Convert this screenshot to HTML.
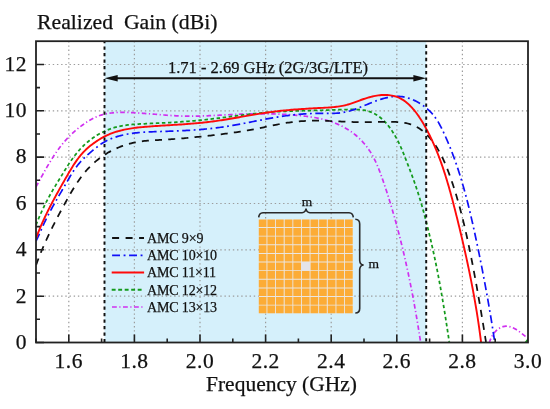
<!DOCTYPE html>
<html><head><meta charset="utf-8"><style>
html,body{margin:0;padding:0;background:#fff;}
svg text{font-family:"Liberation Serif",serif;fill:#111;white-space:pre;stroke:#111;stroke-width:0.25px;}
svg{will-change:transform;filter:blur(0.3px);}
</style></head><body>
<svg width="550" height="409" viewBox="0 0 550 409" style="display:block">
<defs><clipPath id="clip"><rect x="36.0" y="41.2" width="492.0" height="301.3"/></clipPath></defs>
<rect x="104.5" y="41.2" width="321.7" height="301.3" fill="#d5f0fb"/>
<path d="M36.0,296.2H528.0M36.0,249.8H528.0M36.0,203.5H528.0M36.0,157.1H528.0M36.0,110.8H528.0M36.0,64.5H528.0M68.8,41.2V342.5M134.4,41.2V342.5M200.0,41.2V342.5M265.6,41.2V342.5M331.2,41.2V342.5M396.8,41.2V342.5M462.4,41.2V342.5" stroke="#9c9c9c" stroke-width="1.2" stroke-dasharray="1.4 2.788" fill="none"/>
<rect x="258.8" y="219.4" width="93.9" height="93.9" fill="#ebe6e0"/>
<path d="M258.8,219.4h7.7v7.7h-7.7zM267.4,219.4h7.7v7.7h-7.7zM276.0,219.4h7.7v7.7h-7.7zM284.7,219.4h7.7v7.7h-7.7zM293.3,219.4h7.7v7.7h-7.7zM301.9,219.4h7.7v7.7h-7.7zM310.5,219.4h7.7v7.7h-7.7zM319.1,219.4h7.7v7.7h-7.7zM327.8,219.4h7.7v7.7h-7.7zM336.4,219.4h7.7v7.7h-7.7zM345.0,219.4h7.7v7.7h-7.7zM258.8,228.0h7.7v7.7h-7.7zM267.4,228.0h7.7v7.7h-7.7zM276.0,228.0h7.7v7.7h-7.7zM284.7,228.0h7.7v7.7h-7.7zM293.3,228.0h7.7v7.7h-7.7zM301.9,228.0h7.7v7.7h-7.7zM310.5,228.0h7.7v7.7h-7.7zM319.1,228.0h7.7v7.7h-7.7zM327.8,228.0h7.7v7.7h-7.7zM336.4,228.0h7.7v7.7h-7.7zM345.0,228.0h7.7v7.7h-7.7zM258.8,236.6h7.7v7.7h-7.7zM267.4,236.6h7.7v7.7h-7.7zM276.0,236.6h7.7v7.7h-7.7zM284.7,236.6h7.7v7.7h-7.7zM293.3,236.6h7.7v7.7h-7.7zM301.9,236.6h7.7v7.7h-7.7zM310.5,236.6h7.7v7.7h-7.7zM319.1,236.6h7.7v7.7h-7.7zM327.8,236.6h7.7v7.7h-7.7zM336.4,236.6h7.7v7.7h-7.7zM345.0,236.6h7.7v7.7h-7.7zM258.8,245.3h7.7v7.7h-7.7zM267.4,245.3h7.7v7.7h-7.7zM276.0,245.3h7.7v7.7h-7.7zM284.7,245.3h7.7v7.7h-7.7zM293.3,245.3h7.7v7.7h-7.7zM301.9,245.3h7.7v7.7h-7.7zM310.5,245.3h7.7v7.7h-7.7zM319.1,245.3h7.7v7.7h-7.7zM327.8,245.3h7.7v7.7h-7.7zM336.4,245.3h7.7v7.7h-7.7zM345.0,245.3h7.7v7.7h-7.7zM258.8,253.9h7.7v7.7h-7.7zM267.4,253.9h7.7v7.7h-7.7zM276.0,253.9h7.7v7.7h-7.7zM284.7,253.9h7.7v7.7h-7.7zM293.3,253.9h7.7v7.7h-7.7zM301.9,253.9h7.7v7.7h-7.7zM310.5,253.9h7.7v7.7h-7.7zM319.1,253.9h7.7v7.7h-7.7zM327.8,253.9h7.7v7.7h-7.7zM336.4,253.9h7.7v7.7h-7.7zM345.0,253.9h7.7v7.7h-7.7zM258.8,262.5h7.7v7.7h-7.7zM267.4,262.5h7.7v7.7h-7.7zM276.0,262.5h7.7v7.7h-7.7zM284.7,262.5h7.7v7.7h-7.7zM293.3,262.5h7.7v7.7h-7.7zM310.5,262.5h7.7v7.7h-7.7zM319.1,262.5h7.7v7.7h-7.7zM327.8,262.5h7.7v7.7h-7.7zM336.4,262.5h7.7v7.7h-7.7zM345.0,262.5h7.7v7.7h-7.7zM258.8,271.1h7.7v7.7h-7.7zM267.4,271.1h7.7v7.7h-7.7zM276.0,271.1h7.7v7.7h-7.7zM284.7,271.1h7.7v7.7h-7.7zM293.3,271.1h7.7v7.7h-7.7zM301.9,271.1h7.7v7.7h-7.7zM310.5,271.1h7.7v7.7h-7.7zM319.1,271.1h7.7v7.7h-7.7zM327.8,271.1h7.7v7.7h-7.7zM336.4,271.1h7.7v7.7h-7.7zM345.0,271.1h7.7v7.7h-7.7zM258.8,279.7h7.7v7.7h-7.7zM267.4,279.7h7.7v7.7h-7.7zM276.0,279.7h7.7v7.7h-7.7zM284.7,279.7h7.7v7.7h-7.7zM293.3,279.7h7.7v7.7h-7.7zM301.9,279.7h7.7v7.7h-7.7zM310.5,279.7h7.7v7.7h-7.7zM319.1,279.7h7.7v7.7h-7.7zM327.8,279.7h7.7v7.7h-7.7zM336.4,279.7h7.7v7.7h-7.7zM345.0,279.7h7.7v7.7h-7.7zM258.8,288.4h7.7v7.7h-7.7zM267.4,288.4h7.7v7.7h-7.7zM276.0,288.4h7.7v7.7h-7.7zM284.7,288.4h7.7v7.7h-7.7zM293.3,288.4h7.7v7.7h-7.7zM301.9,288.4h7.7v7.7h-7.7zM310.5,288.4h7.7v7.7h-7.7zM319.1,288.4h7.7v7.7h-7.7zM327.8,288.4h7.7v7.7h-7.7zM336.4,288.4h7.7v7.7h-7.7zM345.0,288.4h7.7v7.7h-7.7zM258.8,297.0h7.7v7.7h-7.7zM267.4,297.0h7.7v7.7h-7.7zM276.0,297.0h7.7v7.7h-7.7zM284.7,297.0h7.7v7.7h-7.7zM293.3,297.0h7.7v7.7h-7.7zM301.9,297.0h7.7v7.7h-7.7zM310.5,297.0h7.7v7.7h-7.7zM319.1,297.0h7.7v7.7h-7.7zM327.8,297.0h7.7v7.7h-7.7zM336.4,297.0h7.7v7.7h-7.7zM345.0,297.0h7.7v7.7h-7.7zM258.8,305.6h7.7v7.7h-7.7zM267.4,305.6h7.7v7.7h-7.7zM276.0,305.6h7.7v7.7h-7.7zM284.7,305.6h7.7v7.7h-7.7zM293.3,305.6h7.7v7.7h-7.7zM301.9,305.6h7.7v7.7h-7.7zM310.5,305.6h7.7v7.7h-7.7zM319.1,305.6h7.7v7.7h-7.7zM327.8,305.6h7.7v7.7h-7.7zM336.4,305.6h7.7v7.7h-7.7zM345.0,305.6h7.7v7.7h-7.7z" fill="#fcac36"/>
<rect x="301.3" y="261.9" width="8.9" height="8.9" fill="#e4e4e8"/>
<path d="M258.7,217.4 Q259,213 263,212.7 L302,212.7 Q305.5,212.5 306,208.5 Q306.5,212.5 310,212.7 L349,212.7 Q353,213 353.3,217.4" stroke="#2a2a2a" stroke-width="1.6" fill="none"/>
<path d="M355.3,219.3 Q359.7,219.5 359.7,224 L359.7,260.5 Q359.9,264.6 363.6,265 Q359.9,265.4 359.7,269.5 L359.7,308.5 Q359.7,313 355.3,313" stroke="#2a2a2a" stroke-width="1.6" fill="none"/>
<text x="307" y="206" font-size="13.5" text-anchor="middle">m</text>
<text x="368.5" y="268.2" font-size="13.5">m</text>
<g clip-path="url(#clip)">
<path d="M35.96,186.97 L36.68,185.66 L37.40,184.34 L38.11,183.02 L38.83,181.70 L39.55,180.37 L40.27,179.05 L40.99,177.72 L41.72,176.40 L42.45,175.08 L43.18,173.75 L43.91,172.43 L44.65,171.11 L45.39,169.80 L46.14,168.48 L46.89,167.17 L47.65,165.86 L48.41,164.56 L49.18,163.26 L49.96,161.97 L50.75,160.68 L51.55,159.40 L52.35,158.12 L53.16,156.85 L53.99,155.59 L54.82,154.34 L55.66,153.10 L56.52,151.86 L57.38,150.63 L58.26,149.41 L59.15,148.21 L60.05,147.01 L60.97,145.82 L61.90,144.65 L62.85,143.49 L63.80,142.34 L64.78,141.20 L65.77,140.08 L66.78,138.97 L67.80,137.87 L68.84,136.79 L69.90,135.73 L70.97,134.68 L72.06,133.64 L73.17,132.62 L74.30,131.62 L75.44,130.63 L76.60,129.65 L77.77,128.69 L78.96,127.74 L80.16,126.80 L81.37,125.88 L82.60,124.97 L83.84,124.07 L85.09,123.19 L86.36,122.34 L87.64,121.50 L88.93,120.70 L90.23,119.92 L91.55,119.17 L92.88,118.47 L94.22,117.79 L95.58,117.16 L96.95,116.58 L98.34,116.04 L99.73,115.54 L101.14,115.09 L102.56,114.68 L104.00,114.31 L105.44,113.98 L106.89,113.68 L108.35,113.42 L109.82,113.19 L111.30,112.99 L112.78,112.82 L114.28,112.68 L115.77,112.57 L117.27,112.48 L118.78,112.41 L120.29,112.37 L121.81,112.35 L123.32,112.34 L124.84,112.36 L126.37,112.38 L127.89,112.43 L129.41,112.48 L130.93,112.55 L132.45,112.62 L133.97,112.70 L135.49,112.79 L137.00,112.88 L138.52,112.98 L140.03,113.08 L141.54,113.19 L143.05,113.30 L144.56,113.41 L146.06,113.53 L147.57,113.65 L149.07,113.77 L150.57,113.89 L152.08,114.02 L153.58,114.14 L155.08,114.27 L156.58,114.39 L158.08,114.52 L159.57,114.64 L161.07,114.76 L162.57,114.88 L164.07,115.00 L165.56,115.12 L167.06,115.23 L168.55,115.33 L170.05,115.44 L171.55,115.53 L173.04,115.63 L174.54,115.71 L176.04,115.79 L177.54,115.87 L179.04,115.94 L180.54,116.00 L182.04,116.05 L183.54,116.09 L185.04,116.12 L186.54,116.15 L188.04,116.17 L189.55,116.18 L191.05,116.18 L192.56,116.17 L194.06,116.16 L195.57,116.14 L197.08,116.11 L198.59,116.08 L200.10,116.04 L201.60,116.00 L203.11,115.95 L204.62,115.90 L206.13,115.84 L207.64,115.78 L209.15,115.72 L210.67,115.65 L212.18,115.58 L213.69,115.51 L215.20,115.43 L216.71,115.36 L218.22,115.28 L219.73,115.20 L221.24,115.13 L222.75,115.05 L224.26,114.97 L225.77,114.89 L227.28,114.81 L228.79,114.73 L230.30,114.66 L231.81,114.59 L233.32,114.52 L234.82,114.45 L236.33,114.38 L237.84,114.32 L239.34,114.26 L240.85,114.20 L242.36,114.15 L243.86,114.10 L245.37,114.05 L246.87,114.01 L248.37,113.97 L249.88,113.93 L251.38,113.90 L252.89,113.87 L254.39,113.84 L255.89,113.82 L257.40,113.81 L258.90,113.79 L260.40,113.79 L261.91,113.78 L263.41,113.79 L264.91,113.79 L266.42,113.81 L267.92,113.82 L269.42,113.84 L270.93,113.87 L272.43,113.91 L273.94,113.95 L275.44,113.99 L276.95,114.04 L278.45,114.10 L279.96,114.16 L281.46,114.23 L282.97,114.30 L284.48,114.39 L285.99,114.47 L287.49,114.57 L289.00,114.67 L290.51,114.78 L292.01,114.89 L293.52,115.01 L295.02,115.14 L296.53,115.28 L298.03,115.42 L299.53,115.57 L301.03,115.72 L302.53,115.89 L304.02,116.06 L305.52,116.24 L307.01,116.42 L308.50,116.62 L309.99,116.82 L311.47,117.04 L312.95,117.27 L314.43,117.52 L315.91,117.78 L317.38,118.05 L318.85,118.35 L320.32,118.66 L321.78,118.99 L323.24,119.34 L324.69,119.71 L326.14,120.10 L327.59,120.52 L329.03,120.96 L330.46,121.43 L331.89,121.92 L333.31,122.43 L334.72,122.97 L336.12,123.53 L337.52,124.12 L338.90,124.73 L340.27,125.36 L341.62,126.02 L342.97,126.71 L344.30,127.42 L345.61,128.16 L346.91,128.93 L348.20,129.72 L349.46,130.53 L350.71,131.37 L351.94,132.24 L353.16,133.14 L354.35,134.06 L355.52,135.01 L356.67,135.99 L357.80,136.98 L358.91,138.01 L359.99,139.05 L361.06,140.12 L362.10,141.21 L363.11,142.32 L364.11,143.46 L365.07,144.61 L366.02,145.78 L366.94,146.97 L367.83,148.18 L368.70,149.41 L369.54,150.65 L370.35,151.91 L371.14,153.19 L371.90,154.48 L372.64,155.78 L373.35,157.10 L374.05,158.43 L374.72,159.77 L375.37,161.13 L376.01,162.49 L376.63,163.86 L377.23,165.24 L377.81,166.63 L378.39,168.03 L378.94,169.44 L379.49,170.84 L380.03,172.26 L380.55,173.68 L381.07,175.10 L381.58,176.53 L382.09,177.95 L382.59,179.38 L383.08,180.81 L383.57,182.24 L384.06,183.67 L384.54,185.10 L385.02,186.53 L385.50,187.96 L385.97,189.40 L386.44,190.83 L386.90,192.26 L387.37,193.70 L387.82,195.13 L388.28,196.57 L388.73,198.00 L389.18,199.44 L389.62,200.88 L390.06,202.32 L390.50,203.76 L390.94,205.20 L391.37,206.64 L391.80,208.08 L392.23,209.52 L392.65,210.96 L393.07,212.41 L393.49,213.85 L393.90,215.30 L394.31,216.75 L394.72,218.19 L395.13,219.64 L395.53,221.09 L395.93,222.54 L396.33,224.00 L396.73,225.45 L397.12,226.90 L397.51,228.35 L397.89,229.81 L398.28,231.26 L398.66,232.72 L399.04,234.18 L399.41,235.64 L399.79,237.09 L400.16,238.55 L400.52,240.01 L400.89,241.47 L401.25,242.94 L401.61,244.40 L401.97,245.86 L402.33,247.33 L402.68,248.79 L403.03,250.25 L403.38,251.72 L403.72,253.19 L404.07,254.65 L404.41,256.12 L404.74,257.59 L405.08,259.06 L405.41,260.53 L405.74,262.00 L406.07,263.47 L406.40,264.94 L406.72,266.41 L407.04,267.88 L407.36,269.36 L407.68,270.83 L408.00,272.30 L408.31,273.78 L408.62,275.25 L408.93,276.73 L409.23,278.20 L409.54,279.68 L409.84,281.16 L410.14,282.63 L410.44,284.11 L410.73,285.59 L411.02,287.07 L411.32,288.55 L411.61,290.03 L411.89,291.51 L412.18,292.99 L412.46,294.47 L412.74,295.95 L413.02,297.43 L413.30,298.91 L413.57,300.39 L413.85,301.87 L414.12,303.36 L414.39,304.84 L414.66,306.32 L414.92,307.80 L415.19,309.29 L415.45,310.77 L415.71,312.26 L415.97,313.74 L416.23,315.23 L416.48,316.71 L416.73,318.20 L416.99,319.68 L417.24,321.17 L417.48,322.65 L417.73,324.14 L417.98,325.62 L418.22,327.11 L418.46,328.60 L418.70,330.08 L418.94,331.57 L419.18,333.06 L419.41,334.54 L419.65,336.03 L419.88,337.52 L420.11,339.00 L420.34,340.49 L420.57,341.98" stroke="#d030f0" stroke-width="1.7" fill="none" stroke-dasharray="4.6 2.5 1.2 2.5" stroke-linejoin="round"/>
<path d="M489.32,342.99 L489.71,341.58 L490.21,340.13 L490.80,338.67 L491.49,337.21 L492.28,335.78 L493.15,334.38 L494.11,333.04 L495.16,331.77 L496.29,330.60 L497.50,329.53 L498.78,328.59 L500.13,327.79 L501.54,327.14 L502.99,326.66 L504.47,326.35 L505.97,326.22 L507.48,326.28 L508.99,326.51 L510.49,326.89 L511.97,327.40 L513.42,328.03 L514.84,328.76 L516.24,329.57 L517.61,330.45 L518.96,331.39 L520.28,332.36 L521.59,333.35 L522.87,334.35 L524.13,335.34 L525.38,336.30 L526.60,337.21 L527.81,338.07 L529.01,338.85" stroke="#d030f0" stroke-width="1.7" fill="none" stroke-dasharray="4.6 2.5 1.2 2.5" stroke-linejoin="round"/>
<path d="M35.97,224.99 L36.53,223.60 L37.10,222.20 L37.67,220.81 L38.25,219.41 L38.84,218.03 L39.43,216.64 L40.03,215.26 L40.64,213.88 L41.25,212.51 L41.87,211.14 L42.50,209.77 L43.14,208.41 L43.79,207.05 L44.44,205.69 L45.10,204.34 L45.78,202.99 L46.46,201.65 L47.15,200.32 L47.85,198.99 L48.56,197.66 L49.28,196.34 L50.01,195.02 L50.74,193.71 L51.49,192.40 L52.24,191.10 L53.00,189.80 L53.77,188.51 L54.54,187.21 L55.31,185.92 L56.09,184.63 L56.87,183.35 L57.66,182.06 L58.44,180.78 L59.23,179.49 L60.02,178.21 L60.80,176.93 L61.59,175.64 L62.37,174.36 L63.16,173.07 L63.94,171.79 L64.72,170.50 L65.51,169.22 L66.30,167.94 L67.10,166.67 L67.90,165.40 L68.72,164.13 L69.54,162.87 L70.38,161.62 L71.23,160.38 L72.10,159.15 L72.98,157.93 L73.88,156.72 L74.79,155.53 L75.72,154.35 L76.67,153.18 L77.64,152.02 L78.62,150.89 L79.62,149.76 L80.64,148.66 L81.68,147.57 L82.73,146.50 L83.81,145.46 L84.90,144.43 L86.01,143.42 L87.14,142.43 L88.29,141.46 L89.46,140.52 L90.65,139.60 L91.86,138.70 L93.09,137.83 L94.34,136.99 L95.61,136.16 L96.89,135.36 L98.19,134.59 L99.50,133.84 L100.82,133.12 L102.16,132.42 L103.51,131.75 L104.88,131.11 L106.26,130.49 L107.64,129.91 L109.04,129.35 L110.45,128.83 L111.87,128.34 L113.30,127.88 L114.74,127.46 L116.18,127.07 L117.63,126.71 L119.09,126.38 L120.56,126.08 L122.03,125.80 L123.51,125.55 L124.99,125.32 L126.48,125.12 L127.98,124.93 L129.47,124.77 L130.97,124.62 L132.48,124.49 L133.98,124.36 L135.49,124.26 L137.00,124.16 L138.51,124.07 L140.02,123.99 L141.53,123.91 L143.04,123.84 L144.55,123.76 L146.06,123.69 L147.57,123.63 L149.07,123.56 L150.58,123.49 L152.09,123.43 L153.59,123.36 L155.10,123.30 L156.60,123.23 L158.11,123.16 L159.61,123.09 L161.12,123.02 L162.62,122.94 L164.12,122.87 L165.63,122.79 L167.13,122.71 L168.63,122.62 L170.14,122.54 L171.64,122.45 L173.14,122.35 L174.64,122.26 L176.15,122.16 L177.65,122.06 L179.15,121.96 L180.65,121.85 L182.15,121.74 L183.65,121.63 L185.15,121.52 L186.66,121.40 L188.16,121.28 L189.66,121.15 L191.16,121.03 L192.66,120.90 L194.16,120.77 L195.66,120.63 L197.15,120.49 L198.65,120.35 L200.15,120.20 L201.65,120.05 L203.15,119.90 L204.65,119.75 L206.15,119.59 L207.64,119.43 L209.14,119.26 L210.64,119.09 L212.14,118.92 L213.63,118.74 L215.13,118.57 L216.63,118.38 L218.12,118.20 L219.62,118.01 L221.12,117.83 L222.61,117.64 L224.11,117.45 L225.61,117.25 L227.10,117.06 L228.60,116.87 L230.09,116.67 L231.59,116.48 L233.09,116.28 L234.58,116.09 L236.08,115.89 L237.57,115.70 L239.07,115.50 L240.57,115.31 L242.06,115.12 L243.56,114.93 L245.05,114.75 L246.55,114.56 L248.05,114.38 L249.54,114.20 L251.04,114.03 L252.54,113.85 L254.04,113.68 L255.53,113.52 L257.03,113.36 L258.53,113.20 L260.03,113.04 L261.53,112.90 L263.03,112.75 L264.52,112.61 L266.02,112.48 L267.52,112.35 L269.02,112.23 L270.53,112.12 L272.03,112.01 L273.53,111.91 L275.03,111.81 L276.53,111.72 L278.03,111.63 L279.54,111.55 L281.04,111.48 L282.54,111.41 L284.05,111.34 L285.55,111.28 L287.05,111.22 L288.56,111.17 L290.06,111.11 L291.57,111.07 L293.07,111.02 L294.58,110.98 L296.08,110.93 L297.59,110.89 L299.09,110.86 L300.60,110.82 L302.10,110.78 L303.61,110.75 L305.12,110.71 L306.62,110.68 L308.13,110.64 L309.63,110.60 L311.14,110.57 L312.65,110.53 L314.15,110.49 L315.66,110.45 L317.16,110.41 L318.67,110.36 L320.18,110.32 L321.68,110.27 L323.19,110.21 L324.69,110.16 L326.20,110.11 L327.71,110.05 L329.21,110.00 L330.72,109.94 L332.23,109.89 L333.73,109.83 L335.24,109.78 L336.75,109.73 L338.26,109.69 L339.77,109.65 L341.28,109.61 L342.79,109.57 L344.31,109.54 L345.82,109.52 L347.34,109.50 L348.85,109.49 L350.37,109.48 L351.89,109.48 L353.41,109.49 L354.93,109.51 L356.45,109.55 L357.96,109.60 L359.47,109.69 L360.97,109.81 L362.46,109.98 L363.93,110.19 L365.39,110.46 L366.83,110.78 L368.25,111.17 L369.65,111.63 L371.03,112.14 L372.38,112.71 L373.71,113.34 L375.02,114.03 L376.29,114.77 L377.55,115.56 L378.77,116.40 L379.97,117.29 L381.14,118.23 L382.27,119.21 L383.38,120.24 L384.45,121.31 L385.50,122.41 L386.51,123.55 L387.50,124.72 L388.45,125.91 L389.38,127.13 L390.29,128.37 L391.17,129.62 L392.02,130.88 L392.85,132.16 L393.66,133.44 L394.45,134.74 L395.21,136.04 L395.95,137.35 L396.68,138.67 L397.38,140.00 L398.07,141.34 L398.74,142.68 L399.39,144.03 L400.03,145.39 L400.65,146.75 L401.25,148.12 L401.85,149.50 L402.43,150.88 L403.00,152.27 L403.57,153.65 L404.13,155.05 L404.68,156.44 L405.23,157.84 L405.78,159.24 L406.32,160.64 L406.87,162.04 L407.41,163.44 L407.96,164.85 L408.50,166.25 L409.04,167.66 L409.58,169.06 L410.11,170.47 L410.65,171.88 L411.18,173.29 L411.71,174.71 L412.23,176.12 L412.75,177.53 L413.27,178.95 L413.78,180.37 L414.28,181.79 L414.79,183.21 L415.28,184.64 L415.77,186.06 L416.26,187.49 L416.74,188.92 L417.21,190.35 L417.68,191.78 L418.14,193.22 L418.60,194.65 L419.05,196.09 L419.49,197.53 L419.93,198.97 L420.36,200.41 L420.79,201.86 L421.21,203.30 L421.63,204.75 L422.05,206.20 L422.46,207.65 L422.86,209.10 L423.26,210.55 L423.66,212.00 L424.05,213.46 L424.44,214.91 L424.83,216.37 L425.21,217.82 L425.59,219.28 L425.97,220.74 L426.34,222.20 L426.71,223.66 L427.08,225.12 L427.45,226.58 L427.81,228.04 L428.17,229.50 L428.53,230.96 L428.89,232.43 L429.24,233.89 L429.59,235.35 L429.94,236.82 L430.29,238.28 L430.63,239.75 L430.98,241.22 L431.32,242.68 L431.65,244.15 L431.99,245.62 L432.32,247.09 L432.65,248.55 L432.98,250.02 L433.30,251.49 L433.62,252.97 L433.94,254.44 L434.26,255.91 L434.57,257.38 L434.88,258.86 L435.19,260.33 L435.50,261.80 L435.80,263.28 L436.10,264.75 L436.40,266.23 L436.70,267.71 L436.99,269.19 L437.28,270.66 L437.57,272.14 L437.86,273.62 L438.14,275.10 L438.43,276.58 L438.71,278.06 L438.99,279.54 L439.26,281.02 L439.54,282.51 L439.81,283.99 L440.08,285.47 L440.35,286.95 L440.61,288.44 L440.88,289.92 L441.14,291.41 L441.40,292.89 L441.66,294.38 L441.92,295.86 L442.17,297.35 L442.43,298.83 L442.68,300.32 L442.93,301.80 L443.18,303.29 L443.43,304.78 L443.68,306.26 L443.92,307.75 L444.16,309.24 L444.41,310.72 L444.65,312.21 L444.89,313.70 L445.13,315.19 L445.37,316.67 L445.60,318.16 L445.84,319.65 L446.07,321.14 L446.31,322.63 L446.54,324.11 L446.77,325.60 L447.00,327.09 L447.24,328.58 L447.46,330.07 L447.69,331.55 L447.92,333.04 L448.15,334.53 L448.38,336.02 L448.60,337.51 L448.83,338.99 L449.05,340.48 L449.28,341.97" stroke="#149a1c" stroke-width="1.75" fill="none" stroke-dasharray="3.5 2.6" stroke-linejoin="round"/>
<path d="M36.09,265.04 L36.60,263.62 L37.12,262.21 L37.64,260.79 L38.17,259.39 L38.71,257.98 L39.25,256.58 L39.81,255.18 L40.37,253.78 L40.93,252.39 L41.50,251.00 L42.08,249.62 L42.67,248.23 L43.26,246.85 L43.86,245.47 L44.46,244.10 L45.07,242.73 L45.69,241.36 L46.31,239.99 L46.93,238.63 L47.56,237.26 L48.20,235.91 L48.84,234.55 L49.49,233.19 L50.14,231.84 L50.80,230.49 L51.46,229.14 L52.12,227.80 L52.79,226.45 L53.47,225.11 L54.14,223.77 L54.83,222.43 L55.51,221.09 L56.20,219.76 L56.89,218.42 L57.59,217.09 L58.29,215.76 L58.99,214.43 L59.70,213.11 L60.41,211.78 L61.12,210.46 L61.83,209.13 L62.55,207.81 L63.27,206.49 L63.99,205.17 L64.71,203.85 L65.44,202.53 L66.17,201.21 L66.89,199.90 L67.63,198.58 L68.36,197.27 L69.10,195.96 L69.85,194.65 L70.59,193.34 L71.35,192.04 L72.11,190.75 L72.88,189.46 L73.66,188.18 L74.45,186.90 L75.24,185.63 L76.05,184.37 L76.87,183.12 L77.70,181.87 L78.54,180.64 L79.40,179.41 L80.26,178.20 L81.15,176.99 L82.05,175.80 L82.96,174.62 L83.89,173.45 L84.84,172.30 L85.81,171.16 L86.80,170.04 L87.80,168.93 L88.83,167.83 L89.88,166.76 L90.94,165.70 L92.03,164.65 L93.14,163.63 L94.27,162.62 L95.41,161.63 L96.58,160.66 L97.76,159.71 L98.95,158.78 L100.16,157.87 L101.39,156.98 L102.63,156.11 L103.89,155.27 L105.16,154.44 L106.44,153.64 L107.74,152.87 L109.04,152.11 L110.36,151.38 L111.69,150.68 L113.02,150.00 L114.37,149.34 L115.73,148.70 L117.09,148.09 L118.47,147.51 L119.85,146.94 L121.25,146.41 L122.65,145.89 L124.06,145.40 L125.47,144.93 L126.90,144.49 L128.33,144.06 L129.77,143.67 L131.21,143.29 L132.67,142.94 L134.12,142.61 L135.59,142.31 L137.06,142.02 L138.53,141.76 L140.01,141.53 L141.49,141.31 L142.98,141.12 L144.48,140.95 L145.97,140.80 L147.47,140.66 L148.97,140.54 L150.48,140.43 L151.98,140.33 L153.49,140.24 L155.00,140.16 L156.51,140.08 L158.02,140.01 L159.53,139.93 L161.04,139.86 L162.55,139.78 L164.05,139.70 L165.56,139.61 L167.06,139.52 L168.57,139.42 L170.07,139.32 L171.57,139.22 L173.07,139.11 L174.57,139.00 L176.07,138.89 L177.57,138.77 L179.06,138.65 L180.56,138.53 L182.06,138.40 L183.55,138.27 L185.05,138.14 L186.54,138.00 L188.04,137.87 L189.53,137.72 L191.02,137.58 L192.52,137.44 L194.01,137.29 L195.50,137.14 L197.00,136.98 L198.49,136.83 L199.98,136.67 L201.47,136.51 L202.97,136.35 L204.46,136.19 L205.95,136.02 L207.45,135.86 L208.94,135.69 L210.43,135.52 L211.93,135.35 L213.42,135.18 L214.92,135.00 L216.41,134.83 L217.90,134.65 L219.40,134.46 L220.89,134.28 L222.38,134.09 L223.88,133.90 L225.37,133.71 L226.86,133.51 L228.35,133.31 L229.84,133.11 L231.33,132.90 L232.82,132.69 L234.31,132.48 L235.80,132.26 L237.29,132.04 L238.78,131.81 L240.26,131.58 L241.75,131.35 L243.23,131.11 L244.72,130.87 L246.20,130.62 L247.68,130.37 L249.16,130.12 L250.64,129.86 L252.12,129.59 L253.59,129.32 L255.07,129.04 L256.54,128.76 L258.01,128.47 L259.48,128.18 L260.95,127.88 L262.42,127.58 L263.89,127.27 L265.35,126.96 L266.82,126.65 L268.28,126.34 L269.75,126.03 L271.22,125.72 L272.68,125.42 L274.15,125.11 L275.62,124.82 L277.09,124.53 L278.57,124.24 L280.04,123.96 L281.52,123.70 L283.00,123.44 L284.49,123.19 L285.98,122.95 L287.47,122.73 L288.96,122.51 L290.45,122.31 L291.95,122.12 L293.44,121.94 L294.94,121.77 L296.44,121.61 L297.94,121.47 L299.45,121.34 L300.95,121.22 L302.45,121.11 L303.95,121.02 L305.46,120.94 L306.96,120.87 L308.47,120.82 L309.97,120.77 L311.47,120.74 L312.98,120.72 L314.48,120.71 L315.98,120.70 L317.49,120.71 L318.99,120.72 L320.49,120.74 L322.00,120.77 L323.50,120.81 L325.00,120.85 L326.50,120.89 L328.01,120.94 L329.51,121.00 L331.01,121.06 L332.51,121.12 L334.02,121.18 L335.52,121.25 L337.02,121.32 L338.52,121.39 L340.02,121.46 L341.53,121.53 L343.03,121.59 L344.53,121.66 L346.03,121.73 L347.53,121.79 L349.03,121.85 L350.53,121.91 L352.03,121.96 L353.53,122.01 L355.03,122.05 L356.53,122.08 L358.03,122.11 L359.52,122.14 L361.02,122.15 L362.52,122.16 L364.02,122.16 L365.51,122.15 L367.01,122.13 L368.51,122.11 L370.00,122.08 L371.50,122.04 L373.00,122.01 L374.50,121.97 L376.00,121.93 L377.50,121.89 L379.00,121.86 L380.50,121.83 L382.01,121.80 L383.52,121.78 L385.02,121.76 L386.53,121.76 L388.05,121.76 L389.56,121.77 L391.08,121.80 L392.60,121.84 L394.13,121.90 L395.66,121.97 L397.19,122.05 L398.72,122.16 L400.24,122.30 L401.77,122.46 L403.28,122.66 L404.78,122.90 L406.27,123.17 L407.74,123.50 L409.18,123.87 L410.61,124.30 L412.00,124.79 L413.37,125.33 L414.71,125.93 L416.03,126.58 L417.31,127.29 L418.57,128.04 L419.80,128.84 L421.01,129.69 L422.19,130.57 L423.34,131.50 L424.47,132.47 L425.57,133.47 L426.64,134.51 L427.69,135.58 L428.72,136.68 L429.72,137.81 L430.70,138.96 L431.65,140.13 L432.58,141.33 L433.48,142.54 L434.36,143.78 L435.21,145.02 L436.05,146.28 L436.86,147.55 L437.65,148.83 L438.41,150.13 L439.16,151.44 L439.89,152.75 L440.60,154.08 L441.29,155.41 L441.97,156.76 L442.63,158.11 L443.27,159.47 L443.90,160.84 L444.51,162.22 L445.11,163.60 L445.70,164.99 L446.27,166.38 L446.84,167.78 L447.39,169.19 L447.93,170.59 L448.47,172.00 L449.00,173.42 L449.51,174.83 L450.03,176.25 L450.53,177.67 L451.03,179.09 L451.53,180.52 L452.01,181.94 L452.50,183.37 L452.97,184.79 L453.44,186.22 L453.90,187.65 L454.36,189.09 L454.82,190.52 L455.26,191.95 L455.71,193.39 L456.14,194.83 L456.58,196.27 L457.00,197.71 L457.42,199.15 L457.84,200.59 L458.25,202.03 L458.66,203.48 L459.06,204.93 L459.46,206.37 L459.86,207.82 L460.25,209.27 L460.63,210.72 L461.01,212.17 L461.39,213.63 L461.76,215.08 L462.13,216.54 L462.50,217.99 L462.86,219.45 L463.22,220.91 L463.57,222.37 L463.92,223.82 L464.27,225.29 L464.61,226.75 L464.95,228.21 L465.29,229.67 L465.63,231.14 L465.96,232.60 L466.29,234.07 L466.61,235.53 L466.93,237.00 L467.26,238.47 L467.57,239.93 L467.89,241.40 L468.20,242.87 L468.51,244.34 L468.82,245.81 L469.13,247.28 L469.44,248.75 L469.74,250.23 L470.04,251.70 L470.34,253.17 L470.64,254.64 L470.93,256.12 L471.23,257.59 L471.52,259.07 L471.81,260.54 L472.10,262.02 L472.39,263.49 L472.67,264.97 L472.96,266.44 L473.24,267.92 L473.52,269.40 L473.80,270.88 L474.08,272.35 L474.36,273.83 L474.64,275.31 L474.91,276.79 L475.18,278.27 L475.46,279.75 L475.73,281.23 L475.99,282.71 L476.26,284.19 L476.53,285.67 L476.80,287.15 L477.06,288.63 L477.32,290.11 L477.58,291.59 L477.85,293.07 L478.11,294.55 L478.36,296.03 L478.62,297.51 L478.88,299.00 L479.13,300.48 L479.39,301.96 L479.64,303.44 L479.90,304.93 L480.15,306.41 L480.40,307.89 L480.65,309.37 L480.90,310.86 L481.15,312.34 L481.40,313.82 L481.64,315.30 L481.89,316.79 L482.14,318.27 L482.38,319.75 L482.63,321.24 L482.87,322.72 L483.11,324.20 L483.36,325.68 L483.60,327.17 L483.84,328.65 L484.08,330.13 L484.32,331.61 L484.56,333.10 L484.80,334.58 L485.04,336.06 L485.28,337.54 L485.52,339.03 L485.76,340.51 L486.00,341.99" stroke="#111" stroke-width="1.75" fill="none" stroke-dasharray="7 6.2" stroke-linejoin="round"/>
<path d="M36.03,241.02 L36.71,239.68 L37.37,238.32 L38.01,236.96 L38.63,235.60 L39.25,234.23 L39.85,232.85 L40.46,231.47 L41.06,230.09 L41.66,228.71 L42.27,227.34 L42.89,225.97 L43.52,224.60 L44.15,223.24 L44.80,221.88 L45.46,220.53 L46.12,219.18 L46.79,217.84 L47.47,216.50 L48.16,215.16 L48.85,213.83 L49.55,212.50 L50.26,211.17 L50.97,209.85 L51.69,208.53 L52.41,207.21 L53.14,205.90 L53.87,204.59 L54.61,203.28 L55.35,201.97 L56.09,200.66 L56.84,199.36 L57.58,198.05 L58.34,196.75 L59.09,195.45 L59.84,194.15 L60.60,192.85 L61.35,191.55 L62.11,190.25 L62.87,188.95 L63.62,187.65 L64.38,186.34 L65.13,185.04 L65.89,183.74 L66.64,182.43 L67.39,181.12 L68.14,179.81 L68.90,178.51 L69.66,177.21 L70.43,175.91 L71.20,174.63 L71.99,173.35 L72.79,172.08 L73.61,170.82 L74.44,169.57 L75.30,168.34 L76.17,167.13 L77.07,165.93 L77.99,164.76 L78.95,163.60 L79.92,162.47 L80.92,161.35 L81.95,160.26 L82.99,159.18 L84.05,158.12 L85.14,157.07 L86.24,156.04 L87.35,155.02 L88.48,154.02 L89.62,153.03 L90.77,152.05 L91.92,151.09 L93.09,150.13 L94.26,149.19 L95.44,148.25 L96.62,147.32 L97.80,146.40 L99.00,145.50 L100.20,144.62 L101.43,143.77 L102.67,142.95 L103.94,142.17 L105.24,141.42 L106.56,140.72 L107.91,140.06 L109.28,139.44 L110.67,138.85 L112.07,138.30 L113.48,137.78 L114.90,137.29 L116.32,136.82 L117.75,136.39 L119.19,135.98 L120.63,135.59 L122.08,135.24 L123.54,134.90 L124.99,134.59 L126.46,134.30 L127.93,134.03 L129.40,133.78 L130.87,133.55 L132.35,133.33 L133.84,133.14 L135.33,132.96 L136.82,132.79 L138.31,132.64 L139.81,132.51 L141.31,132.39 L142.81,132.27 L144.31,132.17 L145.82,132.08 L147.32,132.00 L148.83,131.92 L150.34,131.86 L151.85,131.79 L153.37,131.74 L154.88,131.69 L156.39,131.64 L157.90,131.59 L159.41,131.55 L160.93,131.50 L162.44,131.46 L163.95,131.41 L165.46,131.36 L166.97,131.31 L168.48,131.26 L169.99,131.21 L171.49,131.16 L173.00,131.10 L174.51,131.04 L176.01,130.98 L177.51,130.92 L179.02,130.85 L180.52,130.78 L182.02,130.71 L183.53,130.64 L185.03,130.56 L186.53,130.47 L188.03,130.39 L189.53,130.30 L191.03,130.21 L192.52,130.11 L194.02,130.01 L195.52,129.90 L197.02,129.79 L198.51,129.68 L200.01,129.55 L201.50,129.43 L203.00,129.30 L204.49,129.16 L205.98,129.02 L207.47,128.88 L208.97,128.72 L210.46,128.56 L211.95,128.40 L213.44,128.23 L214.93,128.05 L216.42,127.87 L217.91,127.68 L219.40,127.48 L220.88,127.27 L222.37,127.06 L223.86,126.84 L225.34,126.62 L226.83,126.39 L228.32,126.15 L229.80,125.90 L231.29,125.65 L232.77,125.40 L234.25,125.14 L235.74,124.87 L237.22,124.61 L238.70,124.34 L240.19,124.06 L241.67,123.78 L243.15,123.50 L244.63,123.22 L246.11,122.93 L247.60,122.65 L249.08,122.36 L250.56,122.07 L252.04,121.78 L253.52,121.49 L255.00,121.20 L256.48,120.91 L257.96,120.63 L259.44,120.34 L260.92,120.05 L262.40,119.77 L263.88,119.49 L265.36,119.21 L266.84,118.94 L268.32,118.66 L269.80,118.40 L271.27,118.13 L272.75,117.87 L274.23,117.62 L275.71,117.37 L277.19,117.12 L278.67,116.88 L280.15,116.65 L281.63,116.42 L283.11,116.20 L284.59,115.99 L286.07,115.78 L287.55,115.59 L289.03,115.40 L290.51,115.21 L291.99,115.04 L293.48,114.87 L294.96,114.71 L296.45,114.56 L297.94,114.42 L299.43,114.28 L300.92,114.16 L302.41,114.04 L303.90,113.93 L305.40,113.83 L306.90,113.74 L308.40,113.66 L309.90,113.59 L311.41,113.52 L312.92,113.47 L314.43,113.43 L315.95,113.40 L317.46,113.37 L318.99,113.36 L320.51,113.36 L322.04,113.37 L323.57,113.38 L325.10,113.39 L326.63,113.41 L328.16,113.41 L329.69,113.41 L331.22,113.40 L332.74,113.37 L334.26,113.33 L335.77,113.26 L337.27,113.16 L338.76,113.04 L340.25,112.88 L341.73,112.69 L343.19,112.46 L344.64,112.18 L346.09,111.87 L347.52,111.53 L348.95,111.15 L350.37,110.75 L351.78,110.31 L353.19,109.86 L354.59,109.37 L355.99,108.87 L357.38,108.35 L358.77,107.82 L360.16,107.27 L361.55,106.71 L362.95,106.15 L364.34,105.57 L365.73,105.00 L367.13,104.42 L368.53,103.84 L369.94,103.27 L371.35,102.70 L372.77,102.14 L374.19,101.59 L375.63,101.06 L377.07,100.54 L378.52,100.03 L379.97,99.55 L381.43,99.09 L382.90,98.66 L384.37,98.26 L385.85,97.89 L387.33,97.55 L388.81,97.26 L390.29,97.00 L391.77,96.78 L393.25,96.61 L394.73,96.49 L396.20,96.41 L397.68,96.39 L399.14,96.43 L400.61,96.53 L402.07,96.68 L403.52,96.90 L404.96,97.18 L406.40,97.52 L407.83,97.91 L409.25,98.36 L410.65,98.85 L412.05,99.40 L413.43,99.99 L414.80,100.63 L416.16,101.31 L417.50,102.03 L418.82,102.78 L420.13,103.58 L421.42,104.40 L422.68,105.26 L423.93,106.15 L425.15,107.08 L426.34,108.03 L427.51,109.02 L428.64,110.03 L429.74,111.08 L430.80,112.15 L431.82,113.25 L432.80,114.38 L433.75,115.54 L434.66,116.72 L435.53,117.92 L436.37,119.14 L437.19,120.39 L437.97,121.65 L438.73,122.93 L439.47,124.23 L440.18,125.54 L440.88,126.86 L441.55,128.19 L442.22,129.54 L442.87,130.89 L443.51,132.25 L444.13,133.61 L444.76,134.98 L445.37,136.35 L445.99,137.73 L446.59,139.11 L447.19,140.49 L447.78,141.88 L448.37,143.26 L448.95,144.66 L449.52,146.05 L450.09,147.44 L450.65,148.84 L451.20,150.24 L451.75,151.65 L452.29,153.05 L452.82,154.46 L453.35,155.87 L453.87,157.28 L454.39,158.69 L454.90,160.11 L455.40,161.53 L455.90,162.94 L456.39,164.36 L456.88,165.79 L457.36,167.21 L457.84,168.64 L458.31,170.06 L458.77,171.49 L459.23,172.92 L459.69,174.36 L460.14,175.79 L460.58,177.22 L461.02,178.66 L461.45,180.10 L461.88,181.54 L462.31,182.98 L462.73,184.42 L463.14,185.86 L463.55,187.31 L463.96,188.76 L464.37,190.20 L464.76,191.65 L465.16,193.10 L465.55,194.55 L465.94,196.00 L466.32,197.46 L466.70,198.91 L467.08,200.37 L467.45,201.82 L467.82,203.28 L468.18,204.74 L468.55,206.20 L468.91,207.66 L469.26,209.12 L469.62,210.58 L469.97,212.04 L470.32,213.50 L470.66,214.97 L471.00,216.43 L471.34,217.90 L471.68,219.36 L472.02,220.83 L472.35,222.29 L472.68,223.76 L473.01,225.23 L473.34,226.70 L473.66,228.17 L473.99,229.64 L474.31,231.10 L474.63,232.57 L474.95,234.04 L475.26,235.51 L475.58,236.99 L475.89,238.46 L476.21,239.93 L476.52,241.40 L476.83,242.87 L477.14,244.34 L477.45,245.81 L477.75,247.29 L478.06,248.76 L478.36,250.23 L478.67,251.70 L478.97,253.18 L479.27,254.65 L479.57,256.12 L479.87,257.60 L480.16,259.07 L480.46,260.55 L480.75,262.02 L481.05,263.50 L481.34,264.97 L481.63,266.45 L481.92,267.92 L482.21,269.40 L482.49,270.87 L482.78,272.35 L483.06,273.83 L483.35,275.30 L483.63,276.78 L483.91,278.26 L484.19,279.73 L484.47,281.21 L484.74,282.69 L485.02,284.17 L485.29,285.65 L485.57,287.13 L485.84,288.60 L486.11,290.08 L486.38,291.56 L486.64,293.04 L486.91,294.52 L487.17,296.00 L487.44,297.48 L487.70,298.96 L487.96,300.44 L488.22,301.93 L488.48,303.41 L488.74,304.89 L488.99,306.37 L489.25,307.85 L489.50,309.33 L489.75,310.82 L490.00,312.30 L490.25,313.78 L490.50,315.27 L490.75,316.75 L490.99,318.23 L491.24,319.72 L491.48,321.20 L491.72,322.69 L491.96,324.17 L492.20,325.66 L492.44,327.14 L492.67,328.63 L492.91,330.12 L493.14,331.60 L493.37,333.09 L493.60,334.58 L493.83,336.06 L494.06,337.55 L494.29,339.04 L494.51,340.52 L494.74,342.01" stroke="#1010f8" stroke-width="1.7" fill="none" stroke-dasharray="8 3.5 1.8 3.5" stroke-linejoin="round"/>
<path d="M36.12,238.07 L36.65,236.65 L37.18,235.24 L37.72,233.83 L38.27,232.43 L38.83,231.03 L39.40,229.64 L39.97,228.25 L40.55,226.86 L41.15,225.48 L41.75,224.10 L42.35,222.73 L42.97,221.35 L43.59,219.99 L44.22,218.62 L44.85,217.26 L45.49,215.91 L46.14,214.55 L46.79,213.20 L47.45,211.85 L48.12,210.51 L48.79,209.17 L49.47,207.83 L50.15,206.49 L50.84,205.15 L51.53,203.82 L52.23,202.49 L52.93,201.16 L53.64,199.84 L54.35,198.51 L55.06,197.19 L55.78,195.87 L56.50,194.55 L57.22,193.23 L57.95,191.92 L58.68,190.60 L59.42,189.29 L60.15,187.98 L60.89,186.66 L61.63,185.35 L62.38,184.04 L63.12,182.73 L63.87,181.42 L64.61,180.12 L65.36,178.81 L66.11,177.50 L66.86,176.19 L67.62,174.88 L68.37,173.58 L69.14,172.28 L69.90,170.98 L70.68,169.69 L71.46,168.40 L72.25,167.13 L73.05,165.86 L73.86,164.60 L74.69,163.35 L75.52,162.11 L76.38,160.88 L77.25,159.67 L78.14,158.47 L79.04,157.29 L79.97,156.13 L80.92,154.98 L81.89,153.85 L82.88,152.74 L83.90,151.65 L84.94,150.59 L86.01,149.55 L87.11,148.53 L88.24,147.53 L89.39,146.56 L90.57,145.61 L91.77,144.68 L92.99,143.77 L94.22,142.87 L95.48,141.99 L96.74,141.12 L98.02,140.28 L99.32,139.46 L100.62,138.66 L101.94,137.89 L103.27,137.16 L104.61,136.45 L105.96,135.78 L107.32,135.15 L108.69,134.54 L110.07,133.97 L111.45,133.42 L112.85,132.90 L114.25,132.41 L115.67,131.95 L117.09,131.51 L118.51,131.10 L119.95,130.71 L121.39,130.35 L122.83,130.00 L124.29,129.68 L125.75,129.38 L127.21,129.09 L128.68,128.83 L130.15,128.58 L131.63,128.35 L133.11,128.13 L134.60,127.93 L136.09,127.74 L137.58,127.56 L139.07,127.39 L140.57,127.24 L142.07,127.09 L143.57,126.95 L145.08,126.82 L146.58,126.70 L148.08,126.58 L149.59,126.47 L151.09,126.36 L152.60,126.25 L154.10,126.15 L155.61,126.05 L157.11,125.95 L158.62,125.85 L160.12,125.75 L161.63,125.66 L163.13,125.56 L164.63,125.47 L166.14,125.38 L167.64,125.28 L169.14,125.19 L170.64,125.10 L172.15,125.01 L173.65,124.91 L175.15,124.82 L176.65,124.72 L178.15,124.63 L179.65,124.53 L181.15,124.43 L182.65,124.33 L184.15,124.22 L185.65,124.12 L187.15,124.01 L188.64,123.90 L190.14,123.78 L191.64,123.66 L193.14,123.54 L194.63,123.41 L196.13,123.28 L197.62,123.14 L199.12,123.00 L200.61,122.86 L202.11,122.71 L203.60,122.55 L205.09,122.39 L206.58,122.22 L208.07,122.05 L209.57,121.87 L211.06,121.68 L212.54,121.48 L214.03,121.28 L215.52,121.08 L217.01,120.87 L218.50,120.65 L219.98,120.42 L221.47,120.20 L222.96,119.96 L224.44,119.73 L225.93,119.48 L227.41,119.24 L228.90,118.99 L230.38,118.74 L231.87,118.49 L233.35,118.23 L234.83,117.97 L236.32,117.72 L237.80,117.45 L239.29,117.19 L240.77,116.93 L242.25,116.67 L243.74,116.41 L245.22,116.15 L246.70,115.88 L248.19,115.62 L249.67,115.37 L251.15,115.11 L252.64,114.85 L254.12,114.60 L255.60,114.35 L257.09,114.10 L258.57,113.86 L260.06,113.62 L261.54,113.39 L263.03,113.15 L264.51,112.93 L266.00,112.71 L267.49,112.49 L268.97,112.28 L270.46,112.07 L271.95,111.88 L273.44,111.68 L274.93,111.50 L276.42,111.32 L277.91,111.15 L279.40,110.98 L280.89,110.81 L282.38,110.66 L283.87,110.50 L285.37,110.36 L286.86,110.22 L288.35,110.08 L289.85,109.95 L291.34,109.82 L292.84,109.69 L294.33,109.57 L295.83,109.46 L297.33,109.34 L298.83,109.23 L300.32,109.13 L301.82,109.03 L303.32,108.93 L304.82,108.83 L306.32,108.74 L307.82,108.64 L309.32,108.56 L310.83,108.47 L312.33,108.39 L313.83,108.30 L315.34,108.22 L316.84,108.14 L318.35,108.06 L319.85,107.99 L321.36,107.91 L322.87,107.84 L324.37,107.76 L325.88,107.67 L327.38,107.58 L328.88,107.48 L330.38,107.37 L331.88,107.25 L333.38,107.11 L334.87,106.96 L336.36,106.78 L337.84,106.59 L339.32,106.37 L340.79,106.13 L342.26,105.86 L343.72,105.56 L345.18,105.23 L346.62,104.87 L348.06,104.47 L349.50,104.04 L350.93,103.58 L352.35,103.10 L353.77,102.60 L355.18,102.08 L356.60,101.56 L358.02,101.04 L359.44,100.52 L360.86,100.01 L362.28,99.51 L363.71,99.02 L365.14,98.54 L366.58,98.08 L368.02,97.65 L369.47,97.23 L370.93,96.84 L372.39,96.48 L373.87,96.15 L375.35,95.85 L376.84,95.59 L378.34,95.37 L379.85,95.19 L381.36,95.06 L382.87,94.97 L384.38,94.94 L385.89,94.96 L387.39,95.03 L388.89,95.16 L390.38,95.35 L391.86,95.59 L393.32,95.90 L394.76,96.27 L396.18,96.69 L397.58,97.19 L398.95,97.74 L400.29,98.37 L401.60,99.06 L402.87,99.82 L404.12,100.64 L405.33,101.51 L406.50,102.44 L407.65,103.41 L408.77,104.43 L409.85,105.47 L410.91,106.55 L411.95,107.66 L412.95,108.78 L413.93,109.92 L414.89,111.09 L415.82,112.27 L416.74,113.47 L417.62,114.69 L418.49,115.92 L419.34,117.17 L420.18,118.42 L420.99,119.69 L421.79,120.98 L422.57,122.27 L423.34,123.57 L424.09,124.87 L424.84,126.19 L425.57,127.51 L426.29,128.83 L426.99,130.16 L427.69,131.49 L428.38,132.83 L429.06,134.17 L429.73,135.52 L430.39,136.87 L431.04,138.22 L431.68,139.58 L432.31,140.94 L432.93,142.30 L433.55,143.67 L434.15,145.04 L434.75,146.42 L435.34,147.80 L435.92,149.18 L436.49,150.56 L437.05,151.95 L437.61,153.34 L438.15,154.74 L438.69,156.14 L439.23,157.54 L439.75,158.94 L440.27,160.35 L440.79,161.76 L441.29,163.17 L441.79,164.58 L442.28,166.00 L442.77,167.42 L443.25,168.84 L443.72,170.27 L444.19,171.69 L444.66,173.12 L445.11,174.55 L445.57,175.98 L446.01,177.42 L446.45,178.85 L446.89,180.29 L447.32,181.73 L447.75,183.17 L448.18,184.62 L448.59,186.06 L449.01,187.51 L449.42,188.96 L449.83,190.40 L450.23,191.85 L450.63,193.31 L451.03,194.76 L451.42,196.21 L451.81,197.67 L452.20,199.12 L452.59,200.58 L452.97,202.03 L453.35,203.49 L453.73,204.95 L454.11,206.41 L454.48,207.87 L454.85,209.33 L455.22,210.79 L455.59,212.25 L455.96,213.71 L456.33,215.17 L456.69,216.63 L457.06,218.09 L457.42,219.55 L457.78,221.01 L458.14,222.47 L458.50,223.93 L458.86,225.40 L459.21,226.86 L459.57,228.32 L459.92,229.78 L460.27,231.24 L460.62,232.71 L460.97,234.17 L461.32,235.63 L461.66,237.10 L462.01,238.56 L462.35,240.03 L462.69,241.49 L463.03,242.95 L463.37,244.42 L463.70,245.88 L464.04,247.35 L464.37,248.82 L464.70,250.28 L465.03,251.75 L465.36,253.22 L465.68,254.68 L466.01,256.15 L466.33,257.62 L466.65,259.09 L466.97,260.55 L467.28,262.02 L467.60,263.49 L467.91,264.96 L468.22,266.43 L468.53,267.90 L468.83,269.37 L469.14,270.84 L469.44,272.31 L469.74,273.79 L470.04,275.26 L470.34,276.73 L470.63,278.20 L470.92,279.68 L471.21,281.15 L471.50,282.62 L471.79,284.10 L472.07,285.57 L472.35,287.05 L472.63,288.53 L472.91,290.00 L473.18,291.48 L473.46,292.96 L473.73,294.43 L474.00,295.91 L474.26,297.39 L474.52,298.87 L474.79,300.35 L475.04,301.83 L475.30,303.31 L475.55,304.79 L475.81,306.28 L476.05,307.76 L476.30,309.24 L476.54,310.72 L476.79,312.21 L477.02,313.69 L477.26,315.18 L477.49,316.66 L477.73,318.15 L477.95,319.64 L478.18,321.12 L478.40,322.61 L478.62,324.10 L478.84,325.59 L479.06,327.08 L479.27,328.57 L479.48,330.06 L479.69,331.55 L479.89,333.05 L480.09,334.54 L480.29,336.03 L480.49,337.53 L480.68,339.02 L480.87,340.52 L481.06,342.01" stroke="#ff0a0a" stroke-width="1.9" fill="none" stroke-linejoin="round"/>
<path d="M524.8,343.5L528.5,338.8" stroke="#149a1c" stroke-width="1.9"/>
</g>
<path d="M104.5,41.2V342.5" stroke="#111" stroke-width="1.95" stroke-dasharray="3.3 3.2" stroke-dashoffset="1.3"/>
<path d="M426.2,41.2V342.5" stroke="#111" stroke-width="1.95" stroke-dasharray="3.3 3.22" stroke-dashoffset="2.92"/>
<path d="M112.5,78.2H418.2" stroke="#111" stroke-width="1.9"/>
<path d="M104.5,78.2L117.7,74.9L117.7,81.5z" fill="#111"/>
<path d="M426.2,78.2L413.4,74.9L413.4,81.5z" fill="#111"/>
<text x="168.0" y="73.3" font-size="16.5" textLength="200" lengthAdjust="spacingAndGlyphs">1.71 - 2.69 GHz (2G/3G/LTE)</text>
<path d="M112.1,238.0H144.0" stroke="#111" stroke-width="1.9" stroke-dasharray="7 6.5"/>
<text x="147.0" y="242.9" font-size="14" letter-spacing="-0.15">AMC 9×9</text>
<path d="M112.1,255.3H144.0" stroke="#1010f8" stroke-width="1.8" stroke-dasharray="7.9 3.6 1.9 3.6"/>
<text x="147.0" y="260.2" font-size="14" letter-spacing="-0.15">AMC 10×10</text>
<path d="M111.7,272.4H144.1" stroke="#ff0a0a" stroke-width="2.0"/>
<text x="147.0" y="277.3" font-size="14" letter-spacing="-0.15">AMC 11×11</text>
<path d="M111.7,289.7H142.0" stroke="#149a1c" stroke-width="1.9" stroke-dasharray="3.9 2.6"/>
<text x="147.0" y="294.6" font-size="14" letter-spacing="-0.15">AMC 12×12</text>
<path d="M112.0,307.0H144.0" stroke="#d030f0" stroke-width="1.7" stroke-dasharray="4.8 2.5 1.2 2.5"/>
<text x="147.0" y="311.9" font-size="14" letter-spacing="-0.15">AMC 13×13</text>
<rect x="36.0" y="41.2" width="492.0" height="301.3" fill="none" stroke="#222" stroke-width="1.8"/>
<path d="M36.0,342.5h8M36.0,319.3h4M36.0,296.2h8M36.0,273.0h4M36.0,249.8h8M36.0,226.6h4M36.0,203.5h8M36.0,180.3h4M36.0,157.1h8M36.0,134.0h4M36.0,110.8h8M36.0,87.6h4M36.0,64.5h8M36.0,342.5v-4M68.8,342.5v-8M101.6,342.5v-4M134.4,342.5v-8M167.2,342.5v-4M200.0,342.5v-8M232.8,342.5v-4M265.6,342.5v-8M298.4,342.5v-4M331.2,342.5v-8M364.0,342.5v-4M396.8,342.5v-8M429.6,342.5v-4M462.4,342.5v-8M495.2,342.5v-4" stroke="#222" stroke-width="1.6"/>
<text x="26.9" y="348.8" font-size="21.5" text-anchor="end" letter-spacing="0.5">0</text>
<text x="26.9" y="302.5" font-size="21.5" text-anchor="end" letter-spacing="0.5">2</text>
<text x="26.9" y="256.1" font-size="21.5" text-anchor="end" letter-spacing="0.5">4</text>
<text x="26.9" y="209.8" font-size="21.5" text-anchor="end" letter-spacing="0.5">6</text>
<text x="26.9" y="163.4" font-size="21.5" text-anchor="end" letter-spacing="0.5">8</text>
<text x="26.9" y="117.1" font-size="21.5" text-anchor="end" letter-spacing="0.5">10</text>
<text x="26.9" y="70.8" font-size="21.5" text-anchor="end" letter-spacing="0.5">12</text>
<text x="68.8" y="367.9" font-size="21.5" text-anchor="middle" letter-spacing="0.5">1.6</text>
<text x="134.4" y="367.9" font-size="21.5" text-anchor="middle" letter-spacing="0.5">1.8</text>
<text x="200.0" y="367.9" font-size="21.5" text-anchor="middle" letter-spacing="0.5">2.0</text>
<text x="265.6" y="367.9" font-size="21.5" text-anchor="middle" letter-spacing="0.5">2.2</text>
<text x="331.2" y="367.9" font-size="21.5" text-anchor="middle" letter-spacing="0.5">2.4</text>
<text x="396.8" y="367.9" font-size="21.5" text-anchor="middle" letter-spacing="0.5">2.6</text>
<text x="462.4" y="367.9" font-size="21.5" text-anchor="middle" letter-spacing="0.5">2.8</text>
<text x="528.0" y="367.9" font-size="21.5" text-anchor="middle" letter-spacing="0.5">3.0</text>
<text x="206.0" y="391.4" font-size="21.8" textLength="151" lengthAdjust="spacingAndGlyphs">Frequency (GHz)</text>
<text x="37.0" y="28.9" font-size="22" textLength="180.5" lengthAdjust="spacingAndGlyphs">Realized  Gain (dBi)</text>
</svg>
</body></html>
